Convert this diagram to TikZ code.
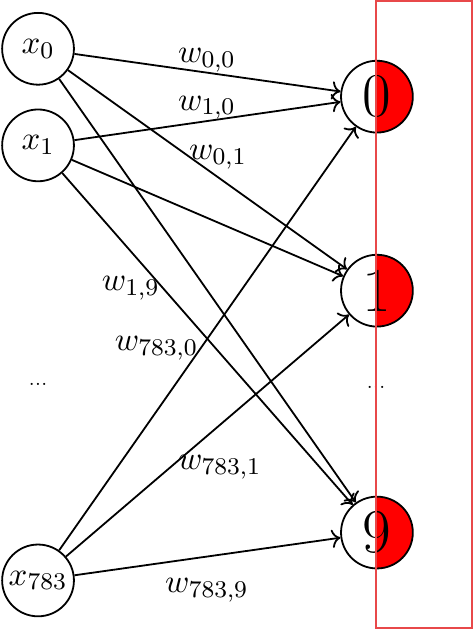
\documentclass[tikz,border=0pt,11pt]{standalone}
\usetikzlibrary{arrows.meta}
\definecolor{boxred}{HTML}{E8484A}
\tikzset{
  inunit/.style={circle,draw,semithick,fill=white,minimum size=0.84cm,inner sep=0pt},
  outunit/.style={circle,draw,semithick,fill=white,minimum size=0.84cm,inner sep=0pt,font=\huge,
    path picture={\fill[red] (path picture bounding box.north) rectangle (path picture bounding box.south east);}},
  weight/.style={inner sep=1pt},
  link/.style={-{To},semithick},
  gapdots/.style={font=\tiny,inner sep=0pt}
}

\begin{document}
\begin{tikzpicture}
  \useasboundingbox (0,0) rectangle (5.546,7.371);
  % input units
  \node[inunit] (x0) at (0.445,6.80) {$x_0$};
  \node[inunit] (x1) at (0.445,5.67) {$x_1$};
  \node[gapdots] (xdots) at (0.445,2.87) {...};
  \node[inunit] (x783) at (0.445,0.58) {$x_{783}$};
  % output units
  \node[outunit] (o0) at (4.41,6.24) {0};
  \node[outunit] (o1) at (4.41,3.97) {1};
  \node[gapdots] (odots) at (4.40,2.84) {...};
  \node[outunit] (o9) at (4.41,1.14) {9};
  % weights
  \foreach \i in {x0,x1,x783}
    \foreach \j in {o0,o1,o9}
      \draw[link] (\i) -- (\j);
  \node[weight] (w00) at (2.42,6.67) {$w_{0,0}$};
  \node[weight] (w10) at (2.42,6.11) {$w_{1,0}$};
  \node[weight] (w01) at (2.55,5.53) {$w_{0,1}$};
  \node[weight] (w19) at (1.53,4.00) {$w_{1,9}$};
  \node[weight] (w7830) at (1.83,3.30) {$w_{783,0}$};
  \node[weight] (w7831) at (2.57,1.90) {$w_{783,1}$};
  \node[weight] (w7839) at (2.42,0.46) {$w_{783,9}$};
  % output box
  \draw[boxred,line width=0.8pt] (4.40,0.023) rectangle (5.52,7.36);
\end{tikzpicture}
\end{document}
